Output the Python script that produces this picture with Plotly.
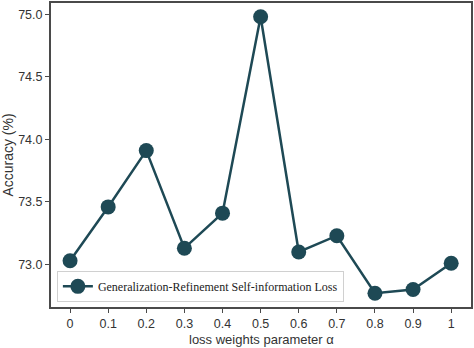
import plotly.graph_objects as go

# Accuracy as a function of the loss weighting parameter alpha
alpha = [0, 0.1, 0.2, 0.3, 0.4, 0.5, 0.6, 0.7, 0.8, 0.9, 1.0]
alpha_labels = ["0", "0.1", "0.2", "0.3", "0.4", "0.5", "0.6", "0.7", "0.8", "0.9", "1"]
accuracy = [73.03, 73.46, 73.91, 73.13, 73.41, 74.98, 73.10, 73.23, 72.77, 72.80, 73.01]
y_ticks = [73.0, 73.5, 74.0, 74.5, 75.0]
series_name = "Generalization-Refinement Self-information Loss"

color = "#1e4955"
frame = "#4a4a4a"
sans = "Liberation Sans, Arial"

fig = go.Figure()
fig.add_trace(go.Scatter(
    x=alpha, y=accuracy, mode="lines+markers", name=series_name,
    line=dict(color=color, width=2.5),
    marker=dict(color=color, size=15),
    showlegend=True,
))

axis_common = dict(
    showgrid=False, zeroline=False, showline=True, mirror=True,
    linecolor=frame, linewidth=2, ticks="outside", ticklen=4, tickwidth=1.3,
    tickcolor=frame, tickfont=dict(family=sans, size=12.5, color="#333"),
)

top, bottom = 1, 41
plot_h = 348 - top - bottom

fig.update_layout(
    width=474, height=348,
    margin=dict(l=51, r=2, t=top, b=bottom),
    paper_bgcolor="white", plot_bgcolor="white",
    xaxis=dict(range=[-0.05, 1.052], tickvals=alpha, ticktext=alpha_labels, **axis_common),
    yaxis=dict(range=[72.66, 75.09], tickvals=y_ticks, ticktext=[f"{v:.1f}" for v in y_ticks],
               title=dict(text="Accuracy (%)", standoff=6,
                          font=dict(family=sans, size=14, color="#333")),
               **axis_common),
    legend=dict(x=0.014, y=0.017, xanchor="left", yanchor="bottom",
                bgcolor="white", bordercolor="#d0d0d0", borderwidth=1,
                font=dict(family="Liberation Serif, Times New Roman", size=12, color="#222"),
                itemwidth=30, tracegroupgap=0),
    annotations=[dict(
        text="loss weights parameter α", xref="paper", yref="paper",
        x=0.5, y=-bottom / plot_h, xanchor="center", yanchor="bottom", showarrow=False,
        borderpad=0, font=dict(family=sans, size=13, color="#333"),
    )],
)

fig.write_html("out.html")
